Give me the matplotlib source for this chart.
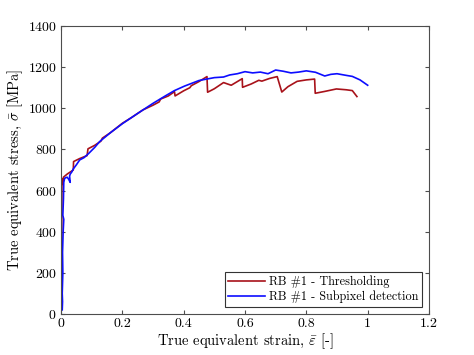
import numpy as np
import matplotlib
matplotlib.use("Agg")
import matplotlib.pyplot as plt

plt.rcParams['font.family'] = ['cmr10', 'DejaVu Serif']
plt.rcParams['mathtext.fontset'] = 'cm'
plt.rcParams['axes.formatter.use_mathtext'] = True

# RB #1 - Thresholding (strain, stress in MPa)
thr_strain = [0.0, 0.002, 0.003, 0.004, 0.005, 0.006, 0.008, 0.012, 0.02, 0.03, 0.04,
              0.041, 0.06, 0.085, 0.088, 0.11, 0.13, 0.135, 0.16, 0.2, 0.23, 0.267,
              0.3, 0.32, 0.325, 0.35, 0.37, 0.372, 0.4, 0.42, 0.425, 0.45, 0.476,
              0.478, 0.5, 0.53, 0.555, 0.591, 0.592, 0.62, 0.645, 0.655, 0.68, 0.705,
              0.72, 0.74, 0.77, 0.8, 0.827, 0.829, 0.86, 0.898, 0.93, 0.95, 0.965]
thr_stress = [0, 300, 640, 630, 655, 640, 665, 670, 680, 690, 700,
              741, 755, 770, 803, 820, 840, 855, 880, 927, 955, 992,
              1015, 1031, 1045, 1060, 1081, 1060, 1085, 1100, 1110, 1130, 1154,
              1078, 1095, 1125, 1112, 1144, 1102, 1118, 1136, 1132, 1145, 1154,
              1079, 1105, 1131, 1138, 1142, 1073, 1082, 1094, 1090, 1086, 1057]

# RB #1 - Subpixel detection
sub_strain = [0.004, 0.005, 0.004, 0.006, 0.005, 0.007, 0.009, 0.006, 0.008, 0.009,
              0.012, 0.02, 0.025, 0.03, 0.028, 0.03, 0.035, 0.04, 0.05, 0.061, 0.075,
              0.09, 0.11, 0.126, 0.16, 0.2, 0.25, 0.3, 0.34, 0.37, 0.403, 0.45,
              0.5, 0.53, 0.55, 0.575, 0.6, 0.625, 0.65, 0.675, 0.7, 0.725, 0.75,
              0.775, 0.8, 0.83, 0.86, 0.88, 0.9, 0.93, 0.95, 0.975, 1.0]
sub_stress = [20, 60, 100, 200, 300, 400, 460, 480, 560, 640,
              660, 665, 655, 640, 670, 680, 690, 705, 725, 749, 760,
              780, 810, 838, 880, 925, 975, 1024, 1060, 1086, 1108, 1135,
              1149, 1152, 1162, 1168, 1178, 1172, 1176, 1168, 1186, 1180, 1172,
              1176, 1182, 1175, 1157, 1165, 1168, 1160, 1155, 1138, 1112]

fig = plt.figure(figsize=(4.74, 3.55), dpi=100)
ax = fig.add_axes([61 / 474, 1 - 314 / 355, 368 / 474, 288 / 355])

ax.plot(thr_strain, thr_stress, color=(0.66, 0.07, 0.1), lw=1.2,
        label='RB #1 - Thresholding')
ax.plot(sub_strain, sub_stress, color=(0.05, 0.05, 1.0), lw=1.2,
        label='RB #1 - Subpixel detection')

ax.set_xlim(0, 1.2)
ax.set_ylim(0, 1400)
ax.set_xticks([0, 0.2, 0.4, 0.6, 0.8, 1.0, 1.2])
ax.set_xticklabels(['0', '0.2', '0.4', '0.6', '0.8', '1', '1.2'])
ax.set_yticks(np.arange(0, 1401, 200))
ax.tick_params(direction='in', top=True, right=True, labelsize=10,
               color='0.3', length=3, pad=3)
for s in ax.spines.values():
    s.set_color('0.3')
    s.set_linewidth(0.8)

ax.set_xlabel(r'True equivalent strain, $\bar{\varepsilon}$ [-]', fontsize=10.5, labelpad=1)
ax.set_ylabel(r'True equivalent stress, $\bar{\sigma}$ [MPa]', fontsize=10.5, labelpad=2)

leg = ax.legend(loc='lower right', fontsize=8.8, fancybox=False, framealpha=1,
                edgecolor='0.2', handlelength=3, borderpad=0.3, labelspacing=0.2,
                handletextpad=0.3, borderaxespad=0.6)
leg.get_frame().set_linewidth(0.8)

fig.savefig('out.png', dpi=100)
